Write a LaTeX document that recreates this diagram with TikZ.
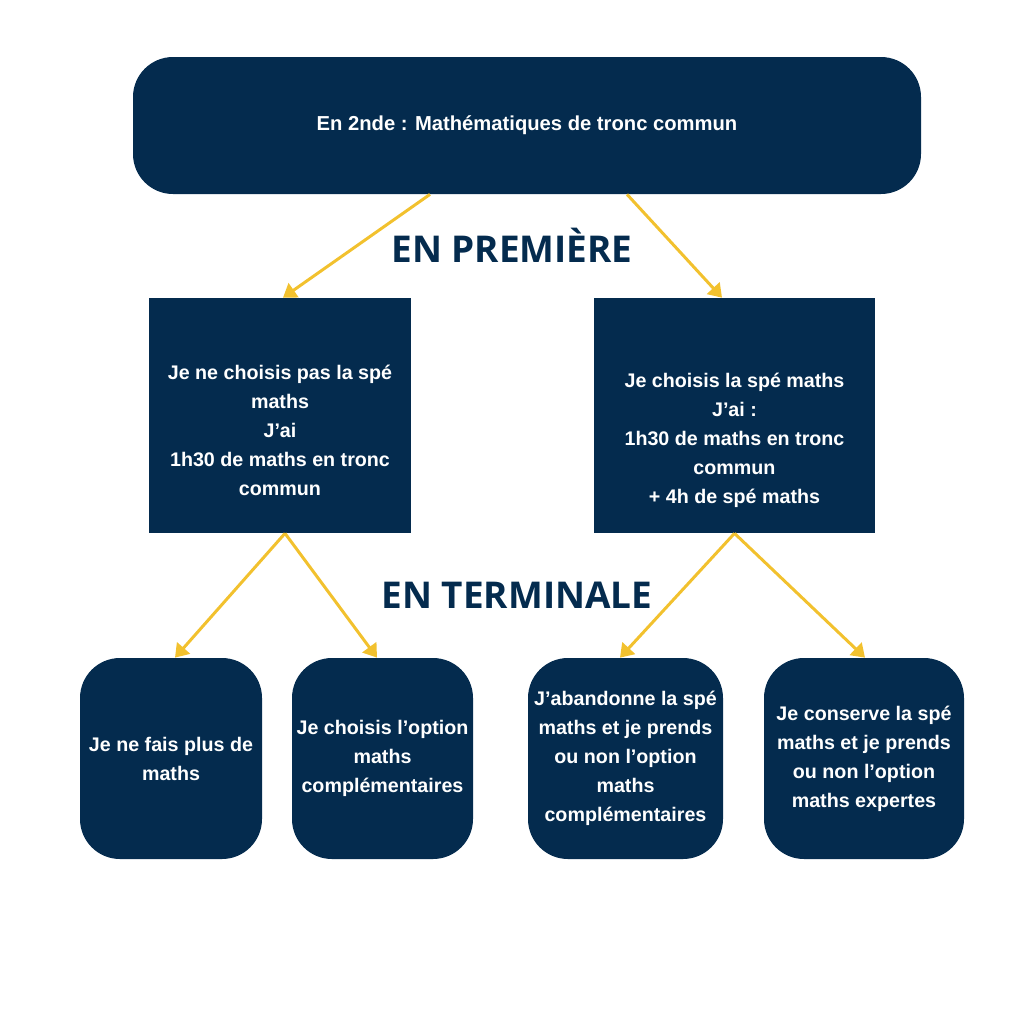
\documentclass[tikz,border=0pt]{standalone}
\usepackage{fontspec}
\setmainfont{Liberation Sans}
\newfontfamily\headfont{Open Sans}
\usetikzlibrary{arrows.meta,calc}
\definecolor{navy}{HTML}{042B4E}
\definecolor{gold}{HTML}{F2C12E}
\tikzset{
  box/.style={fill=navy, text=white, align=center, inner sep=0pt,
    font=\fontsize{11.2pt}{16.5pt}\selectfont\bfseries},
  rbox/.style={box, rounded corners=0.8cm},
  boxtext/.style={text=white, align=center, inner sep=0pt,
    font=\fontsize{11.2pt}{16.5pt}\selectfont\bfseries},
  head/.style={text=navy, font=\headfont\fontsize{21pt}{24pt}\selectfont\bfseries},
  arr/.style={draw=gold, line width=1.7pt, -{Triangle[width=0.34cm,length=0.26cm]}}
}
\begin{document}
\begin{tikzpicture}
\useasboundingbox (0,0) rectangle (20.48,-20.48);
\node[rbox, minimum width=15.76cm, minimum height=2.74cm,
  font=\fontsize{11.5pt}{14pt}\selectfont\bfseries] (top) at (10.54,-2.51)
  {En 2nde : Mathématiques de tronc commun};
\node[head] (prem) at (10.24,-4.9) {EN PREMIÈRE};
\node[box, minimum width=5.24cm, minimum height=4.7cm] (m1) at (5.6,-8.31) {};
\node[boxtext] (m1t) at ([yshift=-0.3cm]m1.center)
  {Je ne choisis pas la spé\\maths\\J’ai\\1h30 de maths en tronc\\commun};
\node[box, minimum width=5.62cm, minimum height=4.7cm] (m2) at (14.69,-8.31) {};
\node[boxtext] (m2t) at ([yshift=-0.49cm]m2.center)
  {Je choisis la spé maths\\J’ai :\\1h30 de maths en tronc\\commun\\+ 4h de spé maths};
\node[head] (term) at (10.34,-11.9) {EN TERMINALE};
\node[rbox, minimum width=3.64cm, minimum height=4.02cm] (b1) at (3.42,-15.17)
  {Je ne fais plus de\\maths};
\node[rbox, minimum width=3.62cm, minimum height=4.02cm] (b2) at (7.65,-15.17)
  {Je choisis l’option\\maths\\complémentaires};
\node[rbox, minimum width=3.9cm, minimum height=4.02cm] (b3) at (12.51,-15.17)
  {J’abandonne la spé\\maths et je prends\\ou non l’option\\maths\\complémentaires};
\node[rbox, minimum width=4.0cm, minimum height=4.02cm] (b4) at (17.28,-15.17)
  {Je conserve la spé\\maths et je prends\\ou non l’option\\maths expertes};
\draw[arr] ([xshift=-1.94cm]top.south) -- ([xshift=0.06cm]m1.north);
\draw[arr] ([xshift=2.0cm]top.south) -- ([xshift=-0.25cm]m2.north);
\draw[arr] ([xshift=0.1cm]m1.south) -- ([xshift=0.08cm]b1.north);
\draw[arr] ([xshift=0.1cm]m1.south) -- ([xshift=-0.11cm]b2.north);
\draw[arr] (m2.south) -- ([xshift=-0.11cm]b3.north);
\draw[arr] (m2.south) -- ([xshift=0.02cm]b4.north);
\end{tikzpicture}
\end{document}
